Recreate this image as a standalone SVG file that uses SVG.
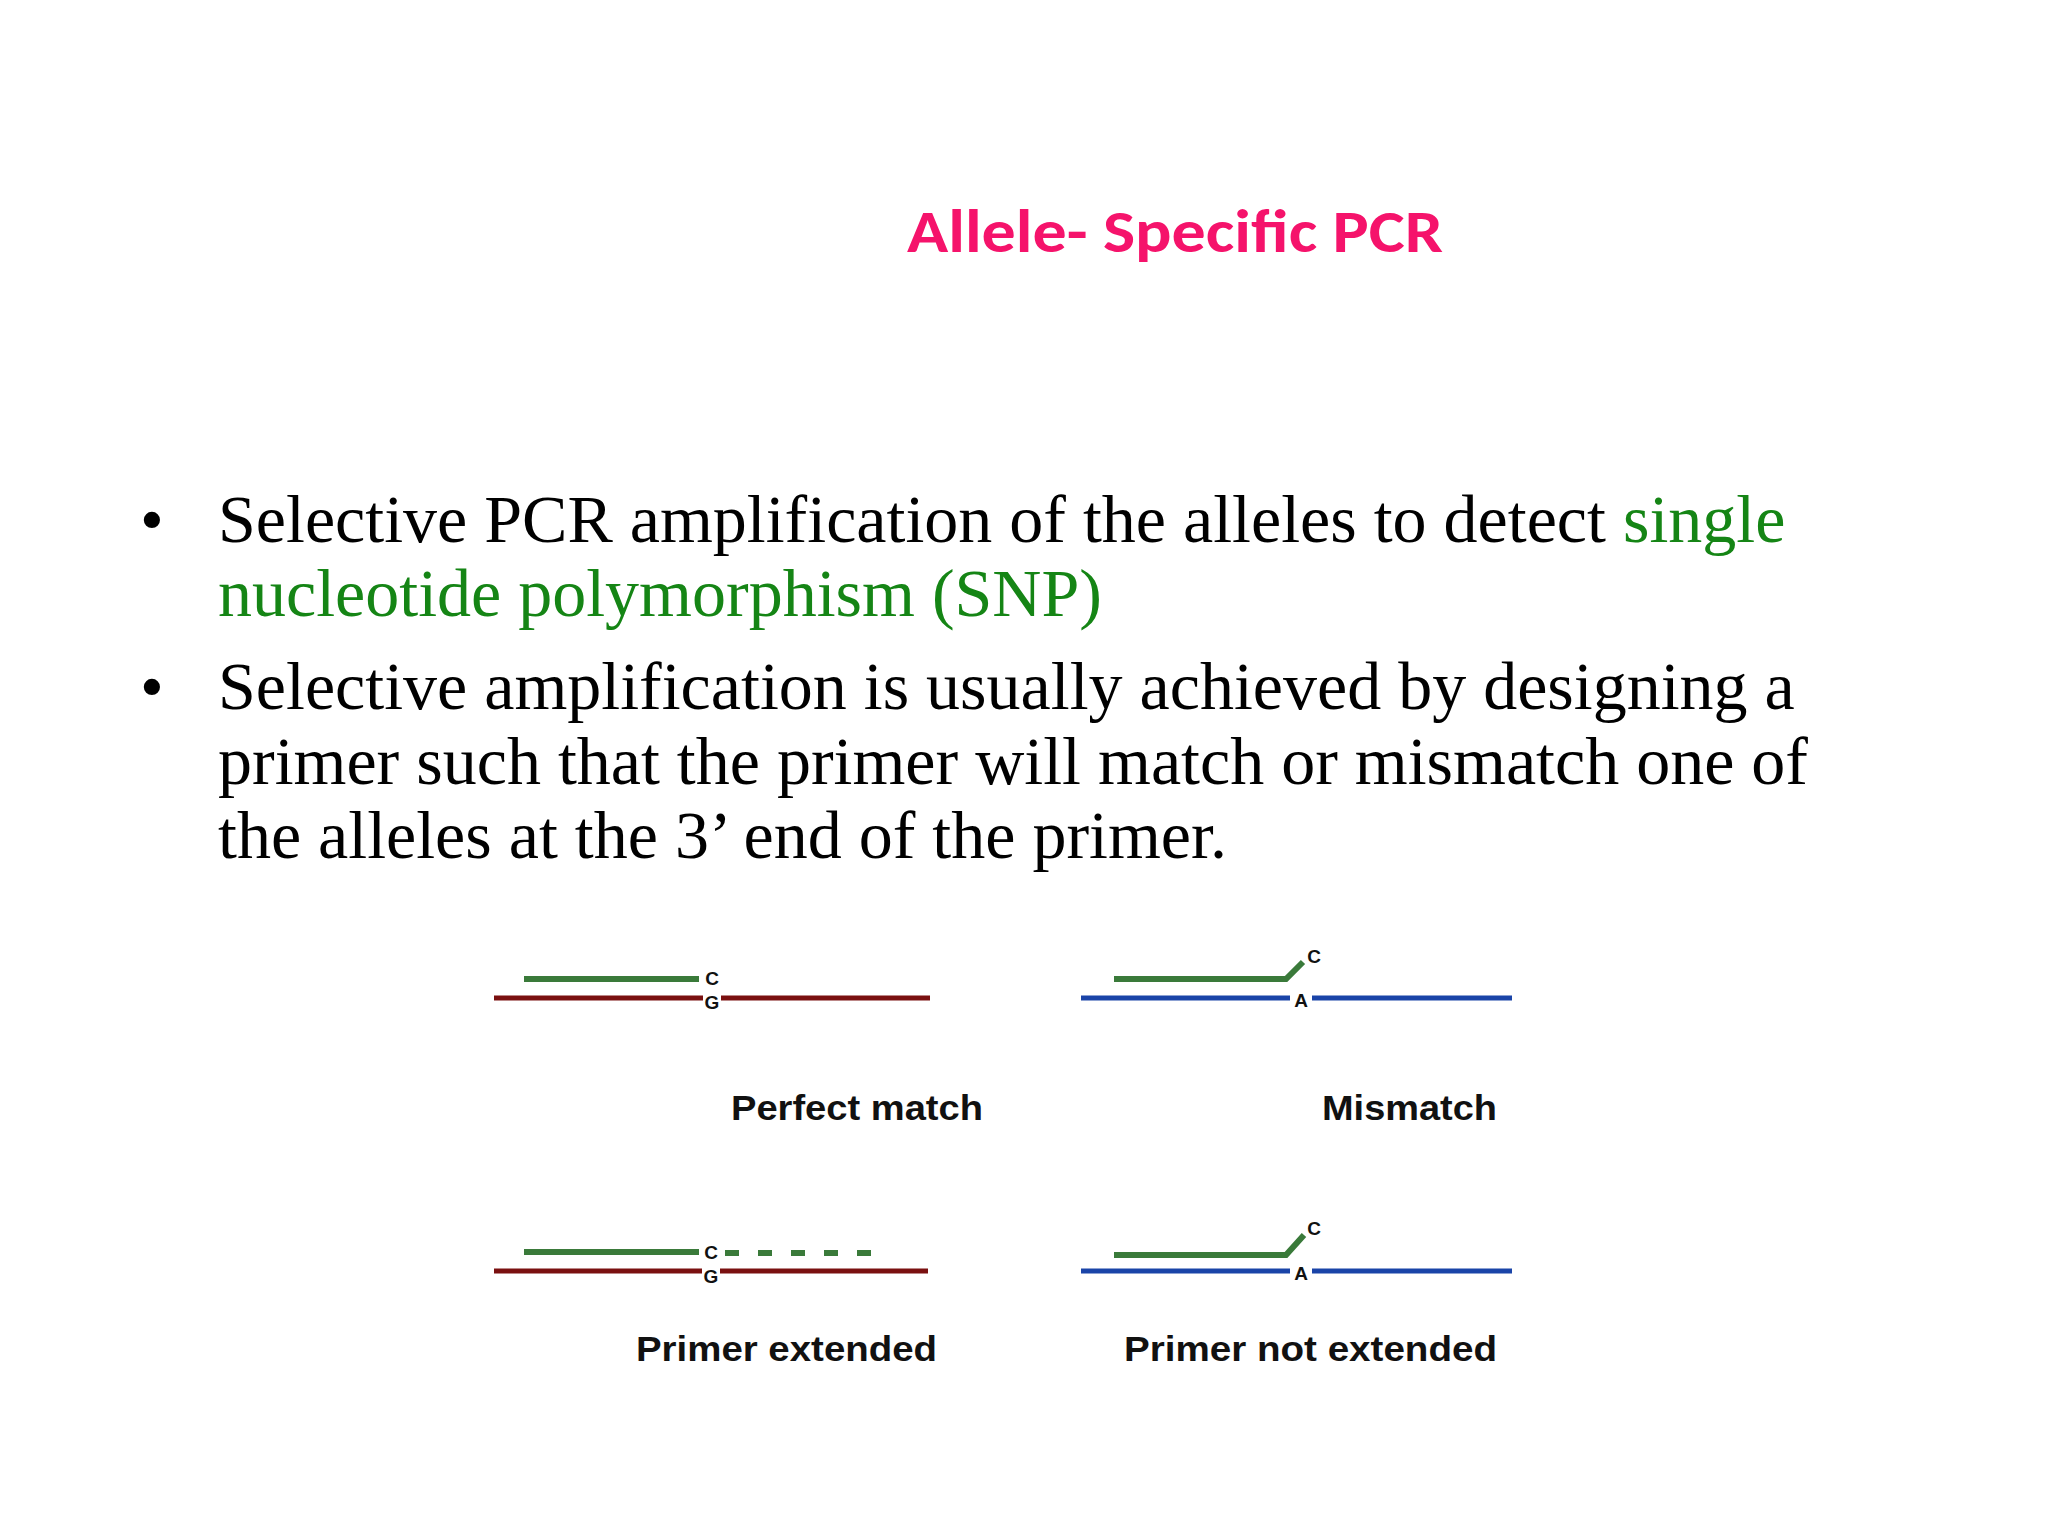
<svg xmlns="http://www.w3.org/2000/svg" width="2048" height="1536" viewBox="0 0 2048 1536">
<style>
.t{font-family:"Liberation Serif",serif;font-size:68px;fill:#000}
.g{fill:#158515}
.lab{font-family:"Liberation Sans",Arial,sans-serif;font-weight:bold;font-size:35px;fill:#111}
.b{font-family:"Liberation Sans",Arial,sans-serif;font-weight:bold;font-size:19px;fill:#111;text-anchor:middle}
.gr{stroke:#3a7a3a;stroke-width:6;fill:none}
.rd{stroke:#7a1010;stroke-width:5;fill:none}
.bl{stroke:#1a44a8;stroke-width:5;fill:none}
</style>
<rect width="2048" height="1536" fill="#fff"/>
<text x="1175" y="252" text-anchor="middle" font-family="Carlito,'Open Sans',sans-serif" font-weight="bold" font-size="60" fill="#f5136b" textLength="536" lengthAdjust="spacingAndGlyphs">Allele- Specific PCR</text>
<g id="bullets">
<text x="140" y="542" class="t">•</text>
<text x="218" y="542" class="t">Selective PCR amplification of the alleles to detect <tspan class="g">single</tspan></text>
<text x="218" y="616" class="t g">nucleotide polymorphism (SNP)</text>
<text x="140" y="709" class="t">•</text>
<text x="218" y="709" class="t">Selective amplification is usually achieved by designing a</text>
<text x="218" y="784" class="t">primer such that the primer will match or mismatch one of</text>
<text x="218" y="858" class="t">the alleles at the 3’ end of the primer.</text>
</g>
<g id="perfect">
<line x1="524" y1="979" x2="699" y2="979" class="gr"/>
<line x1="494" y1="998" x2="703" y2="998" class="rd"/>
<line x1="721" y1="998" x2="930" y2="998" class="rd"/>
<text x="712" y="985" class="b">C</text>
<text x="712" y="1009" class="b">G</text>
<text x="731" y="1120" class="lab" textLength="252" lengthAdjust="spacingAndGlyphs">Perfect match</text>
</g>
<g id="mismatch">
<polyline points="1114,979 1286,979 1303,962" class="gr"/>
<line x1="1081" y1="998" x2="1290" y2="998" class="bl"/>
<line x1="1312" y1="998" x2="1512" y2="998" class="bl"/>
<text x="1314" y="963" class="b">C</text>
<text x="1301" y="1007" class="b">A</text>
<text x="1322" y="1120" class="lab" textLength="175" lengthAdjust="spacingAndGlyphs">Mismatch</text>
</g>
<g id="extended">
<line x1="524" y1="1252" x2="699" y2="1252" class="gr"/>
<line x1="725" y1="1253" x2="885" y2="1253" class="gr" stroke-dasharray="14,19"/>
<line x1="494" y1="1271" x2="702" y2="1271" class="rd"/>
<line x1="720" y1="1271" x2="928" y2="1271" class="rd"/>
<text x="711" y="1259" class="b">C</text>
<text x="711" y="1283" class="b">G</text>
<text x="636" y="1361" class="lab" textLength="301" lengthAdjust="spacingAndGlyphs">Primer extended</text>
</g>
<g id="notextended">
<polyline points="1114,1255 1286,1255 1304,1235" class="gr"/>
<line x1="1081" y1="1271" x2="1290" y2="1271" class="bl"/>
<line x1="1312" y1="1271" x2="1512" y2="1271" class="bl"/>
<text x="1314" y="1235" class="b">C</text>
<text x="1301" y="1280" class="b">A</text>
<text x="1124" y="1361" class="lab" textLength="373" lengthAdjust="spacingAndGlyphs">Primer not extended</text>
</g>
</svg>
